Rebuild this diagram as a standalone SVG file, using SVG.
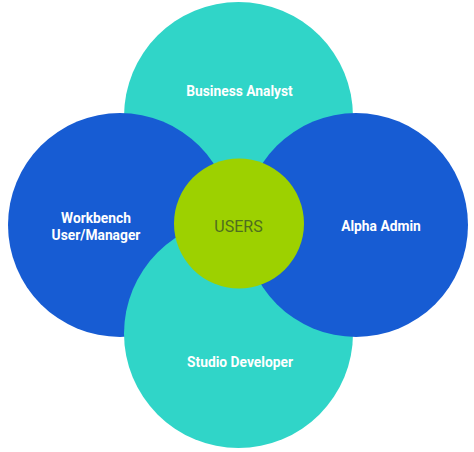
<svg xmlns="http://www.w3.org/2000/svg" width="474" height="452" viewBox="0 0 474 452">
<style>
.teal{fill:#30d5c8}
.blue{fill:#175cd3}
.green{fill:#9dd100}
.lbl{font-family:Roboto,"Liberation Sans",sans-serif;font-weight:bold;font-size:13.8px;fill:#ffffff;text-anchor:middle}
.users{font-family:Roboto,"Liberation Sans",sans-serif;font-size:16px;fill:#4f6e1f;text-anchor:middle}
</style>
<rect width="474" height="452" fill="#ffffff"/>
<g id="business-analyst">
<circle class="teal" cx="238.5" cy="116.5" r="114.5"/>
<text class="lbl" x="239.5" y="96">Business Analyst</text>
</g>
<g id="workbench">
<circle class="blue" cx="120" cy="225" r="112"/>
<text class="lbl" x="96" y="223">Workbench</text>
<text class="lbl" x="96" y="240">User/Manager</text>
</g>
<g id="studio-developer">
<circle class="teal" cx="238.5" cy="333.5" r="114.5"/>
<text class="lbl" x="240" y="367">Studio Developer</text>
</g>
<g id="alpha-admin">
<circle class="blue" cx="356" cy="225" r="112"/>
<text class="lbl" x="381" y="230.5">Alpha Admin</text>
</g>
<g id="users">
<circle class="green" cx="239" cy="223.5" r="65"/>
<text class="users" x="238.5" y="231.5">USERS</text>
</g>
<g id="connectors"></g>
</svg>
